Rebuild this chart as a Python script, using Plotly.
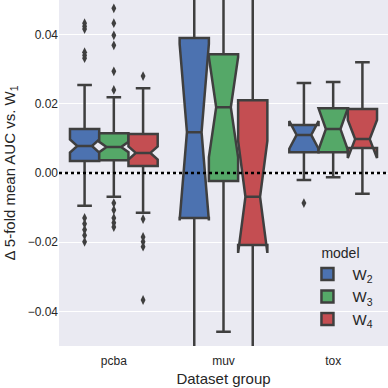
import plotly.graph_objects as go

groups = ["pcba", "muv", "tox"]
models = ["W<sub>2</sub>", "W<sub>3</sub>", "W<sub>4</sub>"]
colors = ["#4C72B0", "#55A868", "#C44E52"]

# per model, values across groups (pcba, muv, tox)
q1 = {
    "W2": [0.0035, -0.0130, 0.0060],
    "W3": [0.0037, -0.0023, 0.0060],
    "W4": [0.0020, -0.0208, 0.0072],
}
median = {
    "W2": [0.0078, 0.0118, 0.0110],
    "W3": [0.0075, 0.0190, 0.0127],
    "W4": [0.0058, -0.0069, 0.0098],
}
q3 = {
    "W2": [0.0127, 0.0390, 0.0139],
    "W3": [0.0115, 0.0343, 0.0187],
    "W4": [0.0113, 0.0210, 0.0185],
}
lowerfence = {
    "W2": [-0.0095, -0.0700, -0.0020],
    "W3": [-0.0069, -0.0459, -0.0012],
    "W4": [-0.0115, -0.0700, -0.0060],
}
upperfence = {
    "W2": [0.0254, 0.0700, 0.0260],
    "W3": [0.0219, 0.0700, 0.0263],
    "W4": [0.0245, 0.0700, 0.0320],
}
notchspan = {
    "W2": [0.0019, 0.0255, 0.0040],
    "W3": [0.0015, 0.0145, 0.0060],
    "W4": [0.0019, 0.0162, 0.0055],
}
outliers = {
    "W2": [[0.0433, 0.0424, 0.0416, 0.0349, 0.0340, 0.0332,
            -0.0130, -0.0147, -0.0164, -0.0180, -0.0199],
           [],
           [-0.0087]],
    "W3": [[0.0476, 0.0433, 0.0398, 0.0369, 0.0294, 0.0240,
            -0.0087, -0.0107, -0.0130, -0.0144, -0.0156],
           [],
           []],
    "W4": [[0.0280, -0.0133, -0.0185, -0.0199, -0.0213, -0.0367],
           [],
           []],
}
keys = ["W2", "W3", "W4"]

edge = "#3f3f3f"
group_width = 0.8
bw = group_width / len(keys)

fig = go.Figure()
for m, (key, name, col) in enumerate(zip(keys, models, colors)):
    off = -group_width / 2 + bw * (m + 0.5)
    xs = [i + off for i in range(len(groups))]
    fig.add_trace(go.Box(
        x=xs, q1=q1[key], median=median[key], q3=q3[key],
        lowerfence=lowerfence[key], upperfence=upperfence[key],
        notchspan=notchspan[key], notched=True, notchwidth=0.25,
        width=bw, whiskerwidth=0.5, boxpoints=False,
        fillcolor=col, line=dict(color=edge, width=2.5),
        name=name, showlegend=True, hoverinfo="skip",
    ))
    ox, oy = [], []
    for i, pts in enumerate(outliers[key]):
        for v in pts:
            ox.append(i + off)
            oy.append(v)
    fig.add_trace(go.Scatter(
        x=ox, y=oy, mode="markers",
        marker=dict(symbol="diamond-tall", size=7, color=edge),
        showlegend=False, hoverinfo="skip",
    ))

fig.add_hline(y=0, line=dict(color="black", width=2.5, dash="dot"))

fig.update_layout(
    width=388, height=388,
    margin=dict(l=59, r=0, t=0, b=42),
    paper_bgcolor="white", plot_bgcolor="#EAEAF2",
    boxmode="overlay",
    font=dict(family="Liberation Sans, Arial, sans-serif", size=12, color="#262626"),
    xaxis=dict(range=[-0.5, 2.5], tickvals=list(range(len(groups))), ticktext=groups,
               showgrid=False, zeroline=False, showline=False,
               ticks="outside", ticklen=4, tickcolor="rgba(0,0,0,0)",
               title=dict(text="Dataset group", font=dict(size=15), standoff=6)),
    yaxis=dict(range=[-0.05, 0.05], tickvals=[-0.04, -0.02, 0.0, 0.02, 0.04],
               tickformat=".2f", showgrid=True, gridcolor="white", gridwidth=1,
               zeroline=False, showline=False, ticks="",
               title=dict(text="Δ 5-fold mean AUC vs. W<sub>1</sub>", font=dict(size=15), standoff=8)),
    legend=dict(title=dict(text="model", side="top center", font=dict(size=14)),
                font=dict(size=15), x=0.74, xanchor="left", y=0.03, yanchor="bottom",
                bgcolor="rgba(0,0,0,0)", itemwidth=40, tracegroupgap=0),
)

fig.write_html("out.html", config={"displayModeBar": False},
               post_script="document.body.style.margin='0';")
